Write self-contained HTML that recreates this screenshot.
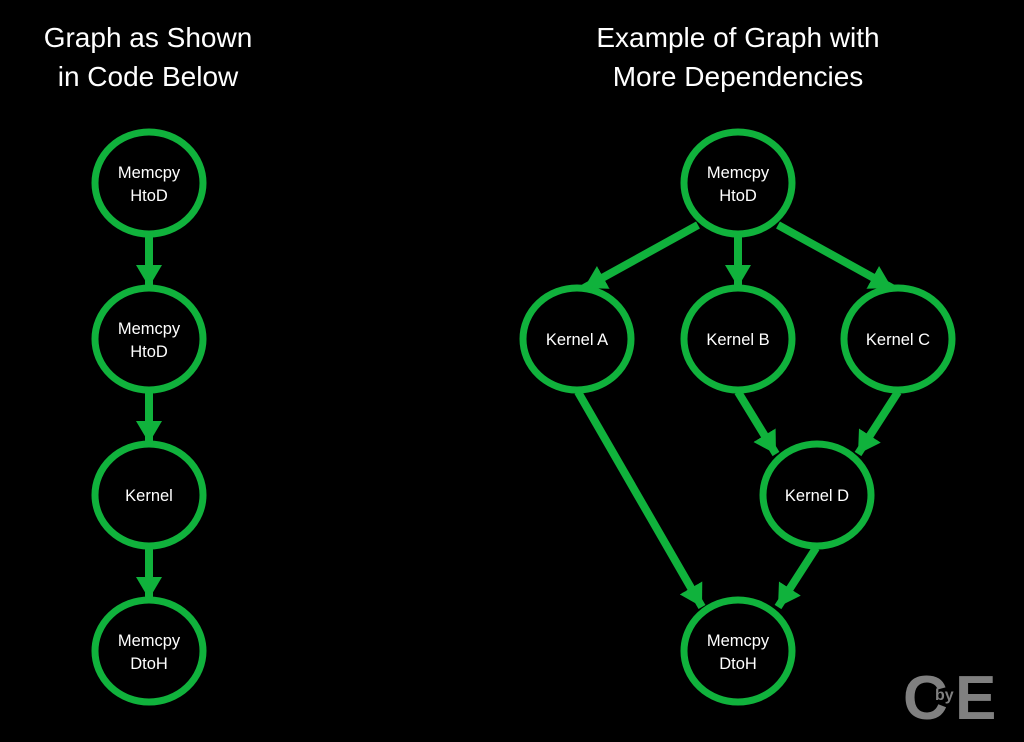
<!DOCTYPE html>
<html><head><style>
html,body{margin:0;padding:0;background:#000;}
svg{display:block}
text{font-family:"Liberation Sans",sans-serif;fill:#fff}
</style></head><body>
<svg width="1024" height="742" viewBox="0 0 1024 742">
<defs>
<marker id="a" markerUnits="userSpaceOnUse" markerWidth="28" markerHeight="28" refX="22" refY="13" orient="auto">
<path d="M0,0 L22,13 L0,26 Z" fill="#10b23c"/>
</marker>
</defs>
<g font-size="28" text-anchor="middle">
<text x="148" y="47">Graph as Shown</text>
<text x="148" y="86">in Code Below</text>
<text x="738" y="47">Example of Graph with</text>
<text x="738" y="86">More Dependencies</text>
</g>
<g stroke="#10b23c" stroke-width="8" fill="none">
<line x1="149" y1="236" x2="149" y2="287" marker-end="url(#a)"/>
<line x1="149" y1="392" x2="149" y2="443" marker-end="url(#a)"/>
<line x1="149" y1="548" x2="149" y2="599" marker-end="url(#a)"/>
<line x1="738" y1="236" x2="738" y2="287" marker-end="url(#a)"/>
<line x1="698" y1="225" x2="584" y2="288" marker-end="url(#a)"/>
<line x1="778" y1="225" x2="892" y2="288" marker-end="url(#a)"/>
<line x1="578" y1="392" x2="702" y2="607" marker-end="url(#a)"/>
<line x1="738" y1="392" x2="776" y2="454" marker-end="url(#a)"/>
<line x1="898" y1="392" x2="858" y2="454" marker-end="url(#a)"/>
<line x1="816" y1="548" x2="778" y2="607" marker-end="url(#a)"/>
<g stroke-width="7" fill="#000">
<ellipse cx="149" cy="183" rx="54" ry="51"/>
<ellipse cx="149" cy="339" rx="54" ry="51"/>
<ellipse cx="149" cy="495" rx="54" ry="51"/>
<ellipse cx="149" cy="651" rx="54" ry="51"/>
<ellipse cx="738" cy="183" rx="54" ry="51"/>
<ellipse cx="577" cy="339" rx="54" ry="51"/>
<ellipse cx="738" cy="339" rx="54" ry="51"/>
<ellipse cx="898" cy="339" rx="54" ry="51"/>
<ellipse cx="817" cy="495" rx="54" ry="51"/>
<ellipse cx="738" cy="651" rx="54" ry="51"/>
</g>
</g>
<g font-size="16.5" text-anchor="middle">
<text x="149" y="178">Memcpy</text><text x="149" y="201">HtoD</text>
<text x="149" y="334">Memcpy</text><text x="149" y="357">HtoD</text>
<text x="149" y="501">Kernel</text>
<text x="149" y="646">Memcpy</text><text x="149" y="669">DtoH</text>
<text x="738" y="178">Memcpy</text><text x="738" y="201">HtoD</text>
<text x="577" y="345">Kernel A</text>
<text x="738" y="345">Kernel B</text>
<text x="898" y="345">Kernel C</text>
<text x="817" y="501">Kernel D</text>
<text x="738" y="646">Memcpy</text><text x="738" y="669">DtoH</text>
</g>
<g>
<text x="903" y="719" font-size="62" font-weight="bold" style="fill:#808080">C</text>
<text x="935" y="700" font-size="16" font-weight="bold" style="fill:#808080">by</text>
<text x="955" y="719" font-size="62" font-weight="bold" style="fill:#808080">E</text>
</g>
</svg>
</body></html>
